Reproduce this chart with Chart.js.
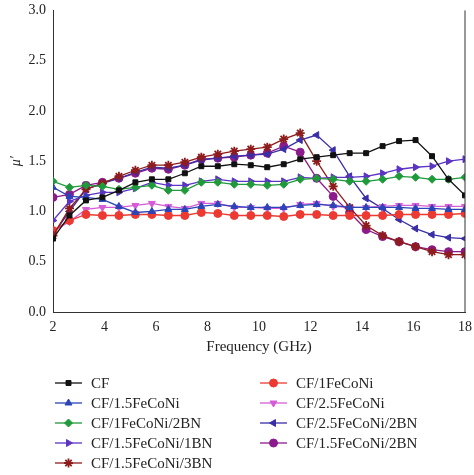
<!DOCTYPE html>
<html>
<head>
<meta charset="utf-8">
<script src="https://cdn.jsdelivr.net/npm/chart.js@4/dist/chart.umd.min.js"></script>
<style>
  html, body { margin: 0; padding: 0; background: #fff; }
  #wrap { width: 474px; height: 475px; }
</style>
</head>
<body>
<div id="wrap"><canvas id="chart" width="474" height="475"></canvas></div>
<script>
var freq = [2, 2.64, 3.28, 3.92, 4.56, 5.2, 5.84, 6.48, 7.12, 7.76, 8.4, 9.04, 9.68, 10.32, 10.96, 11.6, 12.24, 12.88, 13.52, 14.16, 14.8, 15.44, 16.08, 16.72, 17.36, 18];

var cf = [0.73, 0.96, 1.11, 1.14, 1.21, 1.29, 1.32, 1.32, 1.38, 1.45, 1.45, 1.47, 1.46, 1.44, 1.47, 1.52, 1.54, 1.56, 1.58, 1.58, 1.65, 1.70, 1.71, 1.55, 1.32, 1.16];
var cf15 = [1.24, 1.15, 1.14, 1.12, 1.05, 0.99, 1.00, 1.02, 1.02, 1.05, 1.07, 1.05, 1.04, 1.04, 1.04, 1.06, 1.07, 1.06, 1.04, 1.04, 1.04, 1.04, 1.03, 1.03, 1.02, 1.02];
var cf1bn2 = [1.30, 1.24, 1.26, 1.25, 1.22, 1.24, 1.26, 1.21, 1.21, 1.29, 1.29, 1.27, 1.27, 1.26, 1.27, 1.32, 1.33, 1.32, 1.30, 1.30, 1.32, 1.35, 1.34, 1.32, 1.32, 1.34];
var cf15bn1 = [0.91, 1.10, 1.16, 1.19, 1.19, 1.23, 1.29, 1.26, 1.26, 1.30, 1.32, 1.30, 1.30, 1.30, 1.30, 1.34, 1.33, 1.34, 1.34, 1.35, 1.38, 1.42, 1.44, 1.45, 1.50, 1.52];
var cf15bn3 = [0.76, 1.03, 1.22, 1.28, 1.35, 1.41, 1.46, 1.46, 1.49, 1.54, 1.57, 1.60, 1.62, 1.64, 1.72, 1.78, 1.50, 1.25, 1.04, 0.86, 0.76, 0.70, 0.65, 0.60, 0.57, 0.57];
var cf1 = [0.81, 0.91, 0.97, 0.96, 0.96, 0.97, 0.97, 0.96, 0.96, 0.99, 0.98, 0.96, 0.96, 0.96, 0.95, 0.97, 0.97, 0.96, 0.96, 0.96, 0.96, 0.97, 0.97, 0.97, 0.97, 0.98];
var cf25 = [0.80, 0.90, 1.02, 1.04, 1.04, 1.06, 1.08, 1.05, 1.03, 1.08, 1.08, 1.04, 1.04, 1.03, 1.03, 1.07, 1.08, 1.05, 1.04, 1.04, 1.05, 1.06, 1.06, 1.05, 1.05, 1.05];
var cf25bn2 = [0.77, 1.00, 1.22, 1.28, 1.33, 1.39, 1.44, 1.43, 1.46, 1.51, 1.53, 1.55, 1.56, 1.57, 1.62, 1.71, 1.76, 1.61, 1.35, 1.13, 1.03, 0.92, 0.83, 0.77, 0.74, 0.73];
var cf15bn2 = [1.14, 1.17, 1.26, 1.29, 1.33, 1.38, 1.43, 1.42, 1.46, 1.52, 1.53, 1.54, 1.56, 1.58, 1.65, 1.59, 1.33, 1.15, 0.99, 0.82, 0.75, 0.70, 0.65, 0.62, 0.60, 0.60];

var yTicks = [0, 0.5, 1, 1.5, 2, 2.5, 3];
var xTicks = [2, 4, 6, 8, 10, 12, 14, 16, 18];

function pts(arr) {
  return arr.map(function(v, i) { return { x: freq[i], y: v }; });
}

// [label, data, colour, pointStyle, rotation, radius, legend col, legend row]
var series = [
  ['CF', cf, '#111111', 'rect', 0, 3.5, 0, 0],
  ['CF/1.5FeCoNi', cf15, '#2b44b8', 'triangle', 0, 4, 0, 1],
  ['CF/1FeCoNi/2BN', cf1bn2, '#1f9a3a', 'rectRot', 0, 4, 0, 2],
  ['CF/1.5FeCoNi/1BN', cf15bn1, '#5b34c4', 'triangle', 90, 4, 0, 3],
  ['CF/1.5FeCoNi/3BN', cf15bn3, '#8e1c1c', 'star', 0, 4.5, 0, 4],
  ['CF/1FeCoNi', cf1, '#ec3a33', 'circle', 0, 4, 1, 0],
  ['CF/2.5FeCoNi', cf25, '#d65bd6', 'triangle', 180, 4, 1, 1],
  ['CF/2.5FeCoNi/2BN', cf25bn2, '#3a2ea6', 'triangle', -90, 4, 1, 2],
  ['CF/1.5FeCoNi/2BN', cf15bn2, '#8c1a8c', 'circle', 0, 4, 1, 3]
];

var datasets = series.map(function(s) {
  return {
    label: s[0], data: pts(s[1]),
    borderColor: s[2], backgroundColor: s[2],
    borderWidth: 1.3, pointStyle: s[3], rotation: s[4],
    pointRadius: s[5], pointBorderWidth: s[3] === 'star' ? 1.8 : 1,
    tension: 0
  };
});

var framePlugin = {
  id: 'frameRight',
  afterDraw: function(chart) {
    var a = chart.chartArea, ctx = chart.ctx;
    ctx.save();
    ctx.strokeStyle = '#333';
    ctx.lineWidth = 1;
    ctx.beginPath();
    ctx.moveTo(a.right, a.top);
    ctx.lineTo(a.right, a.bottom);
    ctx.stroke();
    ctx.restore();
  }
};

var legendPlugin = {
  id: 'bottomLegend',
  afterDraw: function(chart) {
    var ctx = chart.ctx;
    ctx.save();
    ctx.font = '15px "Liberation Serif", serif';
    ctx.textBaseline = 'middle';
    series.forEach(function(s) {
      var x0 = s[6] === 0 ? 55 : 260;
      var y = 383 + s[7] * 20;
      ctx.strokeStyle = s[2];
      ctx.lineWidth = 1.3;
      ctx.beginPath();
      ctx.moveTo(x0, y);
      ctx.lineTo(x0 + 27, y);
      ctx.stroke();
      ctx.fillStyle = s[2];
      var bw = s[3] === 'star' ? 1.8 : 1;
      ctx.lineWidth = bw;
      Chart.helpers.drawPoint(ctx, { pointStyle: s[3], rotation: s[4], radius: s[5], borderWidth: bw }, x0 + 13.5, y);
      ctx.fillStyle = '#222';
      ctx.fillText(s[0], x0 + 36, y + 1);
    });
    ctx.restore();
  }
};

new Chart(document.getElementById('chart').getContext('2d'), {
  type: 'line',
  data: { datasets: datasets },
  plugins: [framePlugin, legendPlugin],
  options: {
    responsive: false,
    animation: false,
    layout: { padding: { left: 8, right: 9, top: 2, bottom: 115 } },
    plugins: { legend: { display: false }, tooltip: { enabled: false } },
    scales: {
      x: {
        type: 'linear', min: 2, max: 18,
        afterBuildTicks: function(scale) { scale.ticks = xTicks.map(function(v) { return { value: v }; }); },
        grid: { display: false, drawTicks: true, tickLength: 5, color: '#333' },
        border: { color: '#333', width: 1 },
        ticks: { color: '#222', font: { family: 'Liberation Serif', size: 14 }, padding: 2 },
        title: { display: true, text: 'Frequency (GHz)', color: '#222', font: { family: 'Liberation Serif', size: 15 }, padding: { top: 4 } },
        afterFit: function(scale) { scale.height = 48; }
      },
      y: {
        min: 0, max: 3,
        afterBuildTicks: function(scale) { scale.ticks = yTicks.map(function(v) { return { value: v }; }); },
        grid: { display: false, tickLength: 5 },
        border: { color: '#333', width: 1 },
        ticks: { color: '#222', font: { family: 'Liberation Serif', size: 14 }, padding: 2,
          callback: function(v) { return v.toFixed(1); } },
        title: { display: true, text: 'μ′', color: '#222', font: { family: 'Liberation Serif', size: 14, style: 'italic' }, padding: 0 },
        afterFit: function(scale) { scale.width = 45; }
      }
    }
  }
});
</script>
</body>
</html>
